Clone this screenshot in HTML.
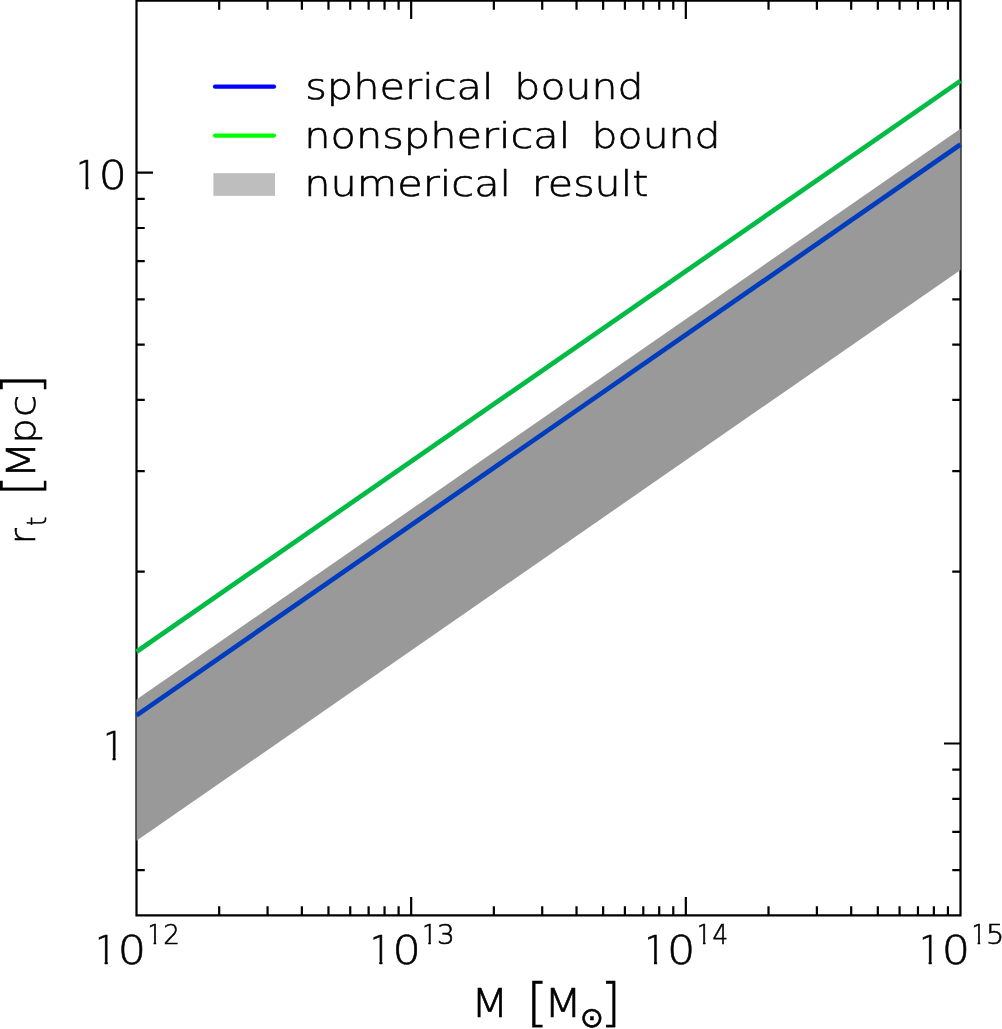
<!DOCTYPE html>
<html><head><meta charset="utf-8"><title>r_t vs M</title>
<style>html,body{margin:0;padding:0;background:#fff;overflow:hidden}svg{display:block}</style>
</head><body>
<svg width="1002" height="1029" viewBox="0 0 1002 1029">
<defs><clipPath id="k3" clipPathUnits="userSpaceOnUse"><rect x="79.60" y="-3000.00" width="15.51" height="3186.72"/><rect x="85.44" y="-3000.00" width="3.12" height="6000.00"/><rect x="-3000.00" y="-3000.00" width="3075.18" height="6000.00"/><rect x="95.11" y="-3000.00" width="4904.89" height="6000.00"/></clipPath><clipPath id="k4" clipPathUnits="userSpaceOnUse"><rect x="106.70" y="-3000.00" width="15.51" height="3757.02"/><rect x="112.54" y="-3000.00" width="3.12" height="6000.00"/><rect x="-3000.00" y="-3000.00" width="3102.28" height="6000.00"/><rect x="122.21" y="-3000.00" width="4877.79" height="6000.00"/></clipPath><clipPath id="k5" clipPathUnits="userSpaceOnUse"><rect x="98.80" y="-3000.00" width="15.51" height="3961.12"/><rect x="104.64" y="-3000.00" width="3.12" height="6000.00"/><rect x="149.90" y="-3000.00" width="10.62" height="3941.96"/><rect x="153.67" y="-3000.00" width="2.47" height="6000.00"/><rect x="-3000.00" y="-3000.00" width="3094.38" height="6000.00"/><rect x="114.31" y="-3000.00" width="32.79" height="6000.00"/><rect x="160.52" y="-3000.00" width="4839.48" height="6000.00"/></clipPath><clipPath id="k6" clipPathUnits="userSpaceOnUse"><rect x="373.47" y="-3000.00" width="15.51" height="3961.12"/><rect x="379.30" y="-3000.00" width="3.12" height="6000.00"/><rect x="424.57" y="-3000.00" width="10.62" height="3941.96"/><rect x="428.33" y="-3000.00" width="2.47" height="6000.00"/><rect x="-3000.00" y="-3000.00" width="3369.05" height="6000.00"/><rect x="388.98" y="-3000.00" width="32.79" height="6000.00"/><rect x="435.19" y="-3000.00" width="4564.81" height="6000.00"/></clipPath><clipPath id="k7" clipPathUnits="userSpaceOnUse"><rect x="648.13" y="-3000.00" width="15.51" height="3961.12"/><rect x="653.97" y="-3000.00" width="3.12" height="6000.00"/><rect x="699.23" y="-3000.00" width="10.62" height="3941.96"/><rect x="703.00" y="-3000.00" width="2.47" height="6000.00"/><rect x="-3000.00" y="-3000.00" width="3643.71" height="6000.00"/><rect x="663.64" y="-3000.00" width="32.79" height="6000.00"/><rect x="709.86" y="-3000.00" width="4290.14" height="6000.00"/></clipPath><clipPath id="k8" clipPathUnits="userSpaceOnUse"><rect x="922.80" y="-3000.00" width="15.51" height="3961.12"/><rect x="928.64" y="-3000.00" width="3.12" height="6000.00"/><rect x="973.90" y="-3000.00" width="10.62" height="3941.96"/><rect x="977.67" y="-3000.00" width="2.47" height="6000.00"/><rect x="-3000.00" y="-3000.00" width="3918.38" height="6000.00"/><rect x="938.31" y="-3000.00" width="32.79" height="6000.00"/><rect x="984.52" y="-3000.00" width="4015.48" height="6000.00"/></clipPath></defs>
<rect width="1002" height="1029" fill="#fff"/>
<path d="M136.5,0.6H960.5V915.4H136.5Z" fill="none" stroke="#000" stroke-width="2.2"/>
<path d="M219.18,915.4v-9.15M219.18,0.6v9.15M267.55,915.4v-9.15M267.55,0.6v9.15M301.87,915.4v-9.15M301.87,0.6v9.15M328.48,915.4v-9.15M328.48,0.6v9.15M350.23,915.4v-9.15M350.23,0.6v9.15M368.62,915.4v-9.15M368.62,0.6v9.15M384.55,915.4v-9.15M384.55,0.6v9.15M398.60,915.4v-9.15M398.60,0.6v9.15M411.17,915.4v-18.3M411.17,0.6v18.3M493.85,915.4v-9.15M493.85,0.6v9.15M542.22,915.4v-9.15M542.22,0.6v9.15M576.53,915.4v-9.15M576.53,0.6v9.15M603.15,915.4v-9.15M603.15,0.6v9.15M624.90,915.4v-9.15M624.90,0.6v9.15M643.29,915.4v-9.15M643.29,0.6v9.15M659.22,915.4v-9.15M659.22,0.6v9.15M673.27,915.4v-9.15M673.27,0.6v9.15M685.83,915.4v-18.3M685.83,0.6v18.3M768.52,915.4v-9.15M768.52,0.6v9.15M816.88,915.4v-9.15M816.88,0.6v9.15M851.20,915.4v-9.15M851.20,0.6v9.15M877.82,915.4v-9.15M877.82,0.6v9.15M899.57,915.4v-9.15M899.57,0.6v9.15M917.95,915.4v-9.15M917.95,0.6v9.15M933.88,915.4v-9.15M933.88,0.6v9.15M947.93,915.4v-9.15M947.93,0.6v9.15M136.5,870.13h8.25M960.5,870.13h-8.25M136.5,831.92h8.25M960.5,831.92h-8.25M136.5,798.82h8.25M960.5,798.82h-8.25M136.5,769.62h8.25M960.5,769.62h-8.25M136.5,743.50h16.5M960.5,743.50h-16.5M136.5,571.67h8.25M960.5,571.67h-8.25M136.5,471.16h8.25M960.5,471.16h-8.25M136.5,399.84h8.25M960.5,399.84h-8.25M136.5,344.53h8.25M960.5,344.53h-8.25M136.5,299.33h8.25M960.5,299.33h-8.25M136.5,261.12h8.25M960.5,261.12h-8.25M136.5,228.02h8.25M960.5,228.02h-8.25M136.5,198.82h8.25M960.5,198.82h-8.25M136.5,172.70h16.5M960.5,172.70h-16.5" fill="none" stroke="#000" stroke-width="2.2"/>
<polygon points="136.5,699.6 960.5,128.8 960.5,270.0 136.5,840.8" fill="#999"/>
<line x1="136.5" y1="715.35" x2="960.5" y2="144.55" stroke="#003cbe" stroke-width="4.7"/>
<line x1="136.5" y1="651.7" x2="960.5" y2="80.9" stroke="#00bb44" stroke-width="4.7"/>
<line x1="215" y1="86.65" x2="274" y2="86.65" stroke="#00f" stroke-width="4.2" stroke-linecap="round"/>
<line x1="215" y1="135.6" x2="274" y2="135.6" stroke="#0f0" stroke-width="4.2" stroke-linecap="round"/>
<rect x="213.4" y="173.2" width="61.6" height="22.7" fill="#bebebe"/>
<g font-family="'DejaVu Sans', 'Liberation Sans', sans-serif" font-weight="200" fill="#000" stroke="#000" stroke-width="0.6">
<text><tspan x="305.16" y="98.80" textLength="188.39" lengthAdjust="spacingAndGlyphs" font-size="35.5">spherical</tspan> <tspan x="514.36" y="98.80" textLength="129.09" lengthAdjust="spacingAndGlyphs" font-size="35.5">bound</tspan></text>
<text><tspan x="304.26" y="147.60" textLength="266.05" lengthAdjust="spacingAndGlyphs" font-size="35.5">nonspherical</tspan> <tspan x="591.56" y="147.60" textLength="129.09" lengthAdjust="spacingAndGlyphs" font-size="35.5">bound</tspan></text>
<text><tspan x="304.26" y="196.40" textLength="206.85" lengthAdjust="spacingAndGlyphs" font-size="35.5">numerical</tspan> <tspan x="531.73" y="196.40" textLength="116.67" lengthAdjust="spacingAndGlyphs" font-size="35.5">result</tspan></text>
<text clip-path="url(#k3)"><tspan x="73.84" y="189.20" font-size="39.4">1</tspan><tspan x="98.84" y="189.20" textLength="28.10" lengthAdjust="spacingAndGlyphs" font-size="39.4">0</tspan></text>
<text clip-path="url(#k4)"><tspan x="100.94" y="759.50" font-size="39.4">1</tspan></text>
<text clip-path="url(#k5)"><tspan x="93.04" y="963.60" font-size="39.4">1</tspan><tspan x="117.81" y="963.60" textLength="28.36" lengthAdjust="spacingAndGlyphs" font-size="39.4">0</tspan><tspan x="146.22" y="943.90" font-size="26.0">1</tspan><tspan x="163.20" y="943.90" textLength="16.63" lengthAdjust="spacingAndGlyphs" font-size="26.0">2</tspan></text>
<text clip-path="url(#k6)"><tspan x="367.71" y="963.60" font-size="39.4">1</tspan><tspan x="392.47" y="963.60" textLength="28.36" lengthAdjust="spacingAndGlyphs" font-size="39.4">0</tspan><tspan x="420.88" y="943.90" font-size="26.0">1</tspan><tspan x="437.06" y="943.90" textLength="17.81" lengthAdjust="spacingAndGlyphs" font-size="26.0">3</tspan></text>
<text clip-path="url(#k7)"><tspan x="642.37" y="963.60" font-size="39.4">1</tspan><tspan x="667.14" y="963.60" textLength="28.36" lengthAdjust="spacingAndGlyphs" font-size="39.4">0</tspan><tspan x="695.55" y="943.90" font-size="26.0">1</tspan><tspan x="712.62" y="943.90" textLength="15.68" lengthAdjust="spacingAndGlyphs" font-size="26.0">4</tspan></text>
<text clip-path="url(#k8)"><tspan x="917.04" y="963.60" font-size="39.4">1</tspan><tspan x="941.81" y="963.60" textLength="28.36" lengthAdjust="spacingAndGlyphs" font-size="39.4">0</tspan><tspan x="970.22" y="943.90" font-size="26.0">1</tspan><tspan x="985.98" y="943.90" textLength="18.34" lengthAdjust="spacingAndGlyphs" font-size="26.0">5</tspan></text>
<text><tspan x="471.14" y="1016.70" textLength="37.56" lengthAdjust="spacingAndGlyphs" font-size="38.6">M</tspan> <tspan x="525.58" y="1020.16" textLength="23.47" lengthAdjust="spacingAndGlyphs" font-size="51.5" stroke-width="0.3">[</tspan><tspan x="544.06" y="1016.70" textLength="38.02" lengthAdjust="spacingAndGlyphs" font-size="38.6">M</tspan><tspan x="579.78" y="1026.50" textLength="23.28" lengthAdjust="spacingAndGlyphs" font-size="28">⊙</tspan><tspan x="600.04" y="1020.16" textLength="21.12" lengthAdjust="spacingAndGlyphs" font-size="51.5" stroke-width="0.3">]</tspan></text>
<text transform="translate(0,1029) rotate(-90)"><tspan x="484.64" y="34.90" textLength="16.19" lengthAdjust="spacingAndGlyphs" font-size="36.0">r</tspan><tspan x="503.09" y="45.50" textLength="9.24" lengthAdjust="spacingAndGlyphs" font-size="26.0">t</tspan> <tspan x="532.28" y="39.16" textLength="21.95" lengthAdjust="spacingAndGlyphs" font-size="52" stroke-width="0.3">[</tspan><tspan x="550.52" y="34.70" textLength="37.10" lengthAdjust="spacingAndGlyphs" font-size="38.6">M</tspan><tspan x="585.21" y="34.90" textLength="25.76" lengthAdjust="spacingAndGlyphs" font-size="36.0">p</tspan><tspan x="612.05" y="34.90" textLength="22.27" lengthAdjust="spacingAndGlyphs" font-size="36.0">c</tspan><tspan x="633.42" y="38.56" textLength="22.16" lengthAdjust="spacingAndGlyphs" font-size="52" stroke-width="0.3">]</tspan></text>
</g>
</svg>
</body></html>
